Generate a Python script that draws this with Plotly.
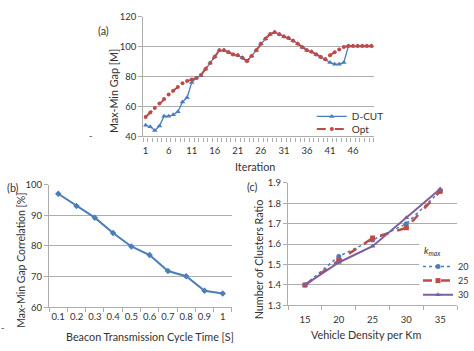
import plotly.graph_objects as go

W, H = 474, 351

# ---------- data ----------
iterations = list(range(1, 51))
dcut = [47.5, 46.5, 44, 47, 53.5, 53.5, 54.5, 56.5, 63, 66,
        76, 79, 80.5, 85, 89, 93.3, 97.5, 97.5, 96.3, 94.8,
        94.3, 92.6, 90.4, 93.7, 97.6, 101.9, 105.3, 108.3, 109.6, 108.3,
        106.8, 105.7, 103.9, 101.9, 99.5, 97.6, 96.5, 94.8, 93, 91.5,
        89.4, 88.3, 88.3, 89.4, 100.4, 100.4, 100.4, 100.4, 100.4, 100.4]
opt = [53, 56, 59, 62, 65, 68, 70.5, 73, 75.5, 77,
       78, 79, 81, 85, 89, 93.3, 97.5, 97.5, 96.3, 94.8,
       94.3, 92.6, 90.4, 93.7, 97.6, 101.9, 105.3, 108.3, 109.6, 108.3,
       106.8, 105.7, 103.9, 101.9, 99.5, 97.6, 96.5, 94.8, 93, 91.5,
       94.3, 96.3, 98, 99.7, 100.4, 100.4, 100.4, 100.4, 100.4, 100.4]
iter_ticks = [1, 6, 11, 16, 21, 26, 31, 36, 41, 46]

cycle_time = [0.1, 0.2, 0.3, 0.4, 0.5, 0.6, 0.7, 0.8, 0.9, 1.0]
cycle_labels = ["0.1", "0.2", "0.3", "0.4", "0.5", "0.6", "0.7", "0.8", "0.9", "1"]
correlation = [97, 93, 89.2, 84.2, 79.8, 77, 71.8, 70.1, 65.4, 64.5]

density = [15, 20, 25, 30, 35]
k20 = [1.40, 1.54, 1.62, 1.70, 1.86]
k25 = [1.40, 1.52, 1.63, 1.68, 1.86]
k30 = [1.40, 1.51, 1.59, 1.73, 1.87]

# ---------- style ----------
FONT = "Lato"
TXT = "#333333"
GRID = "#ADADAD"
BLUE = "#4A7EBB"
RED = "#BE4B48"
PURPLE = "#7D5FA0"
TICKFS = 9.5
TITLEFS = 10.8

fig = go.Figure()

fig.add_trace(go.Scatter(x=iterations, y=dcut, name="D-CUT", mode="lines+markers",
                         line=dict(color=BLUE, width=1.3),
                         marker=dict(symbol="triangle-up", size=5, color=BLUE),
                         xaxis="x", yaxis="y", legend="legend"))
fig.add_trace(go.Scatter(x=iterations, y=opt, name="Opt", mode="lines+markers",
                         line=dict(color=RED, width=2, dash="dash"),
                         marker=dict(symbol="circle", size=4, color=RED),
                         xaxis="x", yaxis="y", legend="legend2"))

fig.add_trace(go.Scatter(x=cycle_time, y=correlation, mode="lines+markers", showlegend=False,
                         line=dict(color=BLUE, width=2),
                         marker=dict(symbol="diamond", size=5, color=BLUE),
                         xaxis="x2", yaxis="y2"))

fig.add_trace(go.Scatter(x=density, y=k20, name="20", mode="lines+markers",
                         line=dict(color=BLUE, width=1.5, dash="dot"),
                         marker=dict(symbol="circle", size=5, color=BLUE),
                         xaxis="x3", yaxis="y3", legend="legend3"))
fig.add_trace(go.Scatter(x=density, y=k25, name="25", mode="lines+markers",
                         line=dict(color=RED, width=2.5, dash="dash"),
                         marker=dict(symbol="square", size=5, color=RED),
                         xaxis="x3", yaxis="y3", legend="legend4"))
fig.add_trace(go.Scatter(x=density, y=k30, name="30", mode="lines+markers",
                         line=dict(color=PURPLE, width=2),
                         marker=dict(symbol="triangle-up", size=5, color=PURPLE),
                         xaxis="x3", yaxis="y3", legend="legend5"))


def px(x):
    return x / W


def py(y):
    return 1 - y / H


axfont = dict(family=FONT, size=TICKFS, color=TXT)
common_y = dict(showgrid=True, gridcolor=GRID, gridwidth=1.2, showline=True, linecolor=GRID,
                linewidth=1.2, ticks="outside", ticklen=4, tickcolor=GRID, zeroline=False,
                tickfont=axfont)
common_x = dict(showgrid=False, showline=True, linecolor=GRID, linewidth=1.2, zeroline=False,
                tickfont=axfont, ticks="outside", tickcolor="rgba(0,0,0,0)")

legfont = dict(family=FONT, size=10, color=TXT)
legfont_c = dict(family=FONT, size=9, color=TXT)
clear = "rgba(0,0,0,0)"

fig.update_layout(
    width=W, height=H, margin=dict(l=0, r=0, t=0, b=0),
    paper_bgcolor="white", plot_bgcolor="white",
    font=dict(family=FONT, size=TICKFS, color=TXT),
    xaxis=dict(domain=[px(148), px(386)], range=[0.5, 50.5], tickmode="array",
               tickvals=iter_ticks, ticklen=5, anchor="y",
               minor=dict(tickmode="linear", tick0=0.5, dtick=1, ticks="outside",
                          ticklen=4, tickcolor=GRID), **common_x),
    yaxis=dict(domain=[py(134.7), py(11)], range=[40, 120], dtick=20, anchor="x", **common_y),
    xaxis2=dict(domain=[px(50.7), px(239.5)], range=[0.05, 1.05], tickmode="array",
                tickvals=cycle_time, ticktext=cycle_labels, ticklen=0, anchor="y2",
                minor=dict(tickmode="linear", tick0=0.05, dtick=0.1, ticks="outside",
                           ticklen=4, tickcolor=GRID), **common_x),
    yaxis2=dict(domain=[py(311), py(184.3)], range=[60, 100], dtick=10, anchor="x2", **common_y),
    xaxis3=dict(domain=[px(297.5), px(472)], range=[12.5, 37.5], tickmode="array",
                tickvals=density, ticklen=5, anchor="y3",
                minor=dict(tickmode="linear", tick0=12.5, dtick=5, ticks="outside",
                           ticklen=4, tickcolor=GRID), **common_x),
    yaxis3=dict(domain=[py(309), py(182.7)], range=[1.3, 1.9], dtick=0.1, tickformat=".1f",
                anchor="x3", **common_y),
    legend=dict(x=px(322), y=py(114), xanchor="left", yanchor="middle",
                bgcolor=clear, font=legfont, itemwidth=30),
    legend2=dict(x=px(322), y=py(127), xanchor="left", yanchor="middle",
                 bgcolor=clear, font=legfont, itemwidth=30),
    legend3=dict(x=px(432), y=py(269), xanchor="left", yanchor="middle",
                 bgcolor=clear, font=legfont_c, itemwidth=30),
    legend4=dict(x=px(432), y=py(283.5), xanchor="left", yanchor="middle",
                 bgcolor=clear, font=legfont_c, itemwidth=30),
    legend5=dict(x=px(432), y=py(298), xanchor="left", yanchor="middle",
                 bgcolor=clear, font=legfont_c, itemwidth=30),
    # white legend box of panel (c), hiding the grid behind the legend
    shapes=[dict(type="rect", xref="paper", yref="paper", layer="above",
                 x0=px(433), x1=1, y0=py(306), y1=py(240),
                 fillcolor="white", line=dict(width=0))],
)

ann = [
    ("(a)", 107, 25.5, 0, TITLEFS), ("(b)", 13.5, 187.5, 0, TITLEFS),
    ("(c)", 261, 186, 0, TITLEFS),
    ("Max-Min Gap [M]", 117, 87.5, -90, TITLEFS), ("Iteration", 263, 165.7, 0, TITLEFS),
    ("Max-Min Gap Correlation [%]", 21.7, 263, -90, 10.5),
    ("Beacon Transmission Cycle Time [S]", 155, 341.7, 0, TITLEFS),
    ("Number of Clusters Ratio", 267.3, 261.7, -90, TITLEFS),
    ("Vehicle Density per Km", 378.3, 339, 0, TITLEFS),
    ("<i>k<sub>max</sub></i>", 447, 253, 0, 9.5),
    ("-", 93, 134, 0, 9), ("-", 3, 332, 0, 9),
]
for text, x, y, ang, fs in ann:
    fig.add_annotation(text=text, x=px(x), y=py(y), xref="paper", yref="paper",
                       xanchor="center", yanchor="middle", showarrow=False,
                       textangle=ang, font=dict(family=FONT, size=fs, color=TXT))

fig.write_html("out.html")
